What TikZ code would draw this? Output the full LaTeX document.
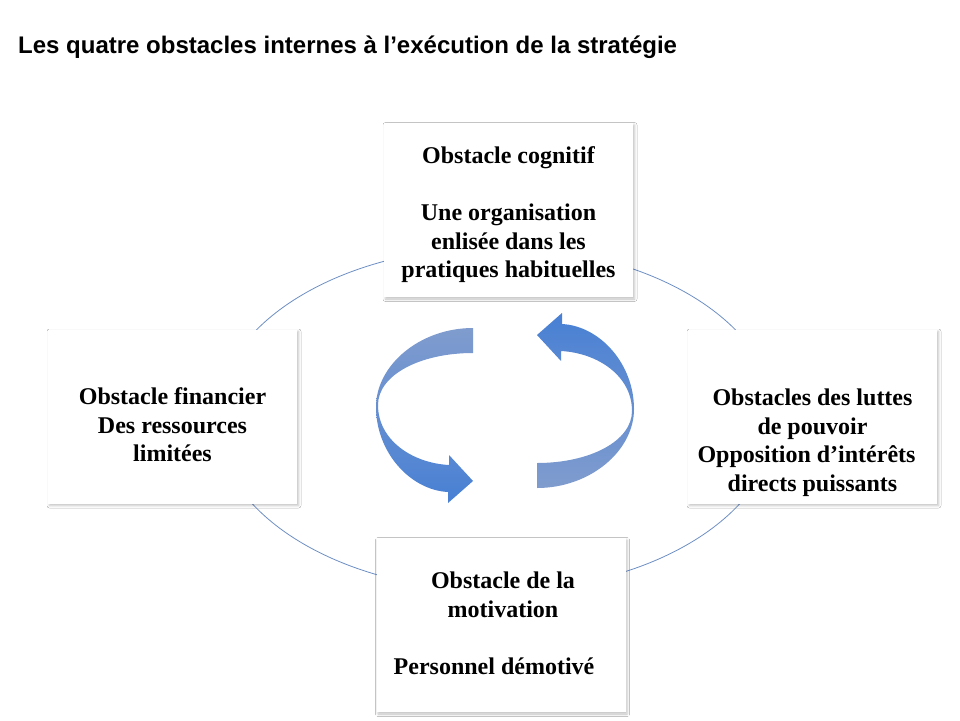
\documentclass[tikz,border=0pt]{standalone}
\usepackage{fontspec}
\setmainfont{Liberation Serif}
\newfontfamily\titlefont{Liberation Sans}
\usetikzlibrary{shadows.blur}

\definecolor{ringblue}{RGB}{110,143,196}
\definecolor{arrowdark}{RGB}{72,128,212}
\definecolor{arrowlight}{RGB}{128,156,206}

\begin{document}
\begin{tikzpicture}[x=1pt, y=-1pt,
    obsbox/.style={rectangle, fill=white, minimum width=249pt, minimum height=174pt,
        blur shadow={shadow xshift=1.5pt, shadow yshift=-2pt, shadow blur radius=2.5pt, shadow opacity=25}},
    obstext/.style={align=center, inner sep=0pt, font=\fontsize{24}{28.5}\selectfont\bfseries}]
    \useasboundingbox[fill=white] (0,0) rectangle (960,720);

    \node[anchor=west, inner sep=0pt, font=\titlefont\bfseries\fontsize{24}{28}\selectfont] (title) at (18,47)
        {Les quatre obstacles internes à l’exécution de la stratégie};

    % the ring behind the four boxes
    \draw[ringblue, line width=0.8pt] (496,419) ellipse [x radius=280pt, y radius=172pt];

    % the two turning arrows
    \foreach \ang/\topc/\botc in {0/arrowlight/arrowdark, 180/arrowdark/arrowlight}
        \shade[top color=\topc, bottom color=\botc, rotate around={\ang:(505,408)}]
            (473,328) .. controls (420,328) and (376,365) .. (376,407)
            .. controls (376,452) and (410,490) .. (448,492)
            -- (448,503) -- (473,481) -- (449,455) -- (449,465)
            .. controls (412,463) and (378,440) .. (378,405)
            .. controls (378,375) and (420,353) .. (473,353) -- cycle;

    \node[obsbox] (cognitif) at (508.5,210) {};
    \node[obsbox] (financier) at (172.5,416.5) {};
    \node[obsbox] (pouvoir) at (812.5,416.5) {};
    \node[obsbox] (motivation) at (501,625) {};

    \node[obstext] (cognitif txt) at ([yshift=-5pt]cognitif)
        {Obstacle cognitif\\~\\Une organisation\\enlisée dans les\\pratiques habituelles};
    \node[obstext] (financier txt) at ([yshift=-8.5pt]financier)
        {Obstacle financier\\Des ressources\\limitées};
    \node[obstext] (pouvoir txt) at ([yshift=-26pt]pouvoir)
        {Obstacles des luttes\\de pouvoir\\Opposition d’intérêts\rule{12pt}{0pt}\\directs puissants};
    \node[obstext] (motivation txt) at ([xshift=2pt, yshift=1.5pt]motivation)
        {Obstacle de la\\motivation\\~\\Personnel démotivé\rule{18pt}{0pt}};
\end{tikzpicture}
\end{document}
